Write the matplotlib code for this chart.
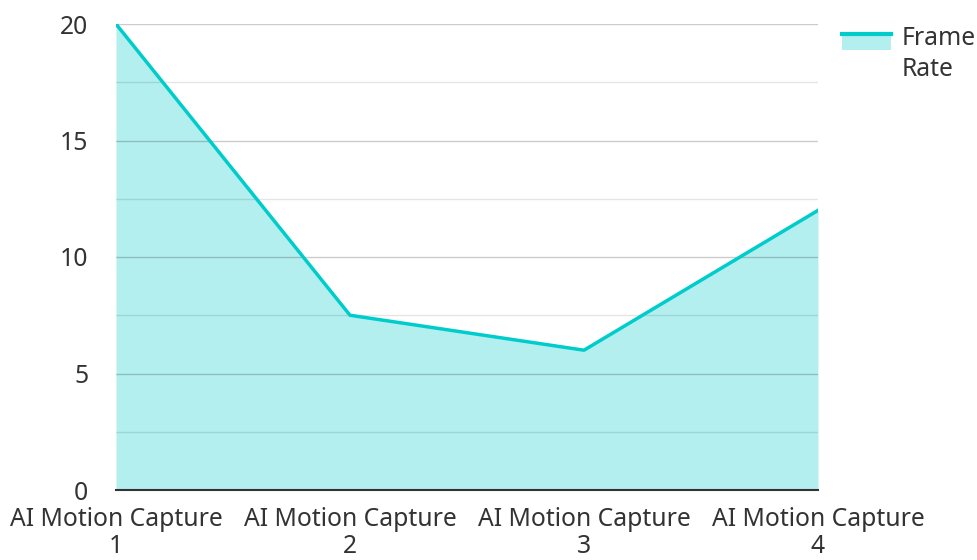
import matplotlib.pyplot as plt
import numpy as np
from matplotlib.patches import Rectangle
from matplotlib.lines import Line2D
from matplotlib.legend_handler import HandlerBase

plt.rcParams['font.family'] = ['Noto Sans', 'DejaVu Sans']

categories = ["AI Motion Capture\n1", "AI Motion Capture\n2",
              "AI Motion Capture\n3", "AI Motion Capture\n4"]
frame_rate = [20, 7.5, 6, 12]

LINE = "#00cccc"
FILL = "#b2efee"
TEXT = "#333333"
FS = 17.8


class AreaHandler(HandlerBase):
    # filled block with the series line along its top edge,
    # lifted so it sits beside the first line of the label
    def create_artists(self, legend, orig, xd, yd, width, height, fontsize, trans):
        y0 = -yd + 9.0
        rect = Rectangle((-xd, y0), width, height, facecolor=FILL,
                         edgecolor="none", transform=trans)
        top = Line2D([-xd, -xd + width], [y0 + height, y0 + height],
                     color=LINE, linewidth=3, transform=trans)
        return [rect, top]


fig = plt.figure(figsize=(9.78, 5.6), dpi=100)
ax = fig.add_axes([116 / 978, 1 - 490 / 560, (818 - 116) / 978, (490 - 24) / 560])

x = np.arange(len(categories))
ax.fill_between(x, frame_rate, 0, color=FILL, linewidth=0, zorder=1)
ax.plot(x, frame_rate, color=LINE, linewidth=2.5, zorder=3)

ax.set_xlim(0, len(categories) - 1)
ax.set_ylim(0, 20)
ax.set_yticks([0, 5, 10, 15, 20])
ax.set_yticks([2.5, 7.5, 12.5, 17.5], minor=True)
ax.grid(which="major", axis="y", color="#000000", alpha=0.2, linewidth=1, zorder=2)
ax.grid(which="minor", axis="y", color="#000000", alpha=0.1, linewidth=1, zorder=2)
ax.set_axisbelow(False)

ax.set_xticks(x)
ax.set_xticklabels(categories, linespacing=1.1)
ax.tick_params(axis="both", length=0, labelsize=FS, colors=TEXT)
ax.tick_params(axis="y", pad=20)
ax.tick_params(axis="x", pad=12)
ax.tick_params(which="minor", length=0)

for s in ["top", "right", "left"]:
    ax.spines[s].set_visible(False)
ax.spines["bottom"].set_color(TEXT)
ax.spines["bottom"].set_linewidth(1.5)

leg = fig.legend([object()], ["Frame\nRate"], handler_map={object: AreaHandler()},
                 loc="upper left", bbox_to_anchor=(842 / 978, 1 - 26 / 560),
                 frameon=False, fontsize=FS, handlelength=2.0, handleheight=0.58,
                 handletextpad=0.4, labelcolor=TEXT, borderaxespad=0, borderpad=0)
for t in leg.get_texts():
    t.set_linespacing(1.3)

fig.savefig("out.png", dpi=100)
